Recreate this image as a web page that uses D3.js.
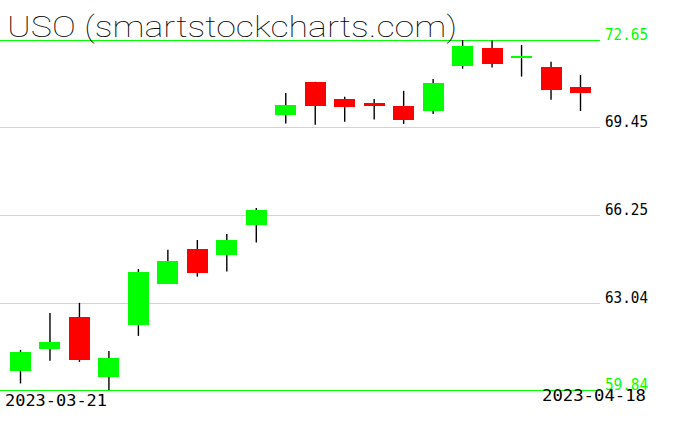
<!DOCTYPE html>
<html>
<head>
<meta charset="utf-8">
<script src="https://cdn.jsdelivr.net/npm/d3@7"></script>
<style>
  body { margin: 0; background: #fff; }
  svg { display: block; }
</style>
</head>
<body>
<div id="chart"></div>
<script>
const dates = ['2023-03-21', '2023-03-22', '2023-03-23', '2023-03-24', '2023-03-27',
  '2023-03-28', '2023-03-29', '2023-03-30', '2023-03-31', '2023-04-03',
  '2023-04-04', '2023-04-05', '2023-04-06', '2023-04-10', '2023-04-11',
  '2023-04-12', '2023-04-13', '2023-04-14', '2023-04-17', '2023-04-18'];
const opens  = [60.52, 61.35, 62.52, 60.30, 62.23, 63.73, 65.01, 64.79, 65.88, 69.92,
  71.10, 70.49, 70.35, 70.24, 70.05, 71.71, 72.36, 72.05, 71.66, 70.93];
const highs  = [61.31, 62.66, 63.03, 61.27, 64.27, 64.97, 65.33, 65.55, 66.50, 70.71,
  71.12, 70.57, 70.49, 70.79, 71.22, 72.65, 72.63, 72.47, 71.85, 71.37];
const lows   = [60.08, 60.91, 60.87, 59.84, 61.82, 63.72, 63.99, 64.18, 65.24, 69.59,
  69.55, 69.66, 69.74, 69.58, 69.94, 71.60, 71.64, 71.31, 70.46, 70.05];
const closes = [61.24, 61.60, 60.95, 61.02, 64.16, 64.57, 64.14, 65.33, 66.43, 70.27,
  70.24, 70.20, 70.24, 69.72, 71.08, 72.43, 71.78, 72.08, 70.82, 70.71];
const yTicks = [59.84, 63.04, 66.25, 69.45, 72.65];
const title = 'USO (smartstockcharts.com)';

const width = 676, height = 431;
const up = '#00ff00', down = '#ff0000';

const candles = dates.map((d, i) => ({
  date: d, open: opens[i], high: highs[i], low: lows[i], close: closes[i]
}));

const svg = d3.select('#chart').append('svg')
  .attr('width', width)
  .attr('height', height);

const x = d3.scalePoint().domain(dates).range([20.5, 580.5]);
const y = d3.scaleLinear()
  .domain([d3.min(lows), d3.max(highs)])
  .range([390, 40]);

// grid lines, top and bottom in green
const yMin = d3.min(yTicks), yMax = d3.max(yTicks);
svg.append('g').selectAll('line')
  .data(yTicks)
  .enter().append('line')
  .attr('x1', 0).attr('x2', 600)
  .attr('y1', d => Math.round(y(d)) + 0.5)
  .attr('y2', d => Math.round(y(d)) + 0.5)
  .attr('stroke', d => (d === yMin || d === yMax) ? up : '#d3d3d3')
  .attr('stroke-width', 1);

// price labels
svg.append('g').selectAll('text')
  .data(yTicks)
  .enter().append('text')
  .attr('x', 605)
  .attr('y', d => Math.round(y(d)))
  .attr('textLength', 43)
  .attr('lengthAdjust', 'spacingAndGlyphs')
  .attr('font-family', 'DejaVu Sans Mono')
  .attr('font-size', 15)
  .attr('fill', d => (d === yMin || d === yMax) ? up : '#000')
  .text(d => d.toFixed(2));

// wicks
svg.append('g').selectAll('line')
  .data(candles)
  .enter().append('line')
  .attr('x1', d => x(d.date)).attr('x2', d => x(d.date))
  .attr('y1', d => y(d.high)).attr('y2', d => y(d.low))
  .attr('stroke', '#000')
  .attr('stroke-width', 1.4);

// bodies
const bodyW = 21;
svg.append('g').selectAll('rect')
  .data(candles)
  .enter().append('rect')
  .attr('x', d => Math.round(x(d.date) - bodyW / 2))
  .attr('y', d => y(Math.max(d.open, d.close)))
  .attr('width', bodyW)
  .attr('height', d => Math.max(2, Math.abs(y(d.open) - y(d.close))))
  .attr('fill', d => d.close >= d.open ? up : down)
  .attr('shape-rendering', 'crispEdges');

// title (thin strokes like the original plotter font)
svg.append('text')
  .attr('x', 7)
  .attr('y', 37)
  .attr('textLength', 450)
  .attr('lengthAdjust', 'spacingAndGlyphs')
  .attr('font-family', 'Roboto, "DejaVu Sans"')
  .attr('font-weight', 100)
  .attr('font-size', 29)
  .attr('fill', '#000')
  .text(title);

// date labels
svg.append('text')
  .attr('x', 5)
  .attr('y', 406)
  .attr('textLength', 102)
  .attr('lengthAdjust', 'spacingAndGlyphs')
  .attr('font-family', 'DejaVu Sans Mono')
  .attr('font-size', 15)
  .text(dates[0]);

svg.append('text')
  .attr('x', 646)
  .attr('y', 401)
  .attr('text-anchor', 'end')
  .attr('textLength', 104)
  .attr('lengthAdjust', 'spacingAndGlyphs')
  .attr('font-family', 'DejaVu Sans Mono')
  .attr('font-size', 15)
  .text(dates[dates.length - 1]);
</script>
</body>
</html>
